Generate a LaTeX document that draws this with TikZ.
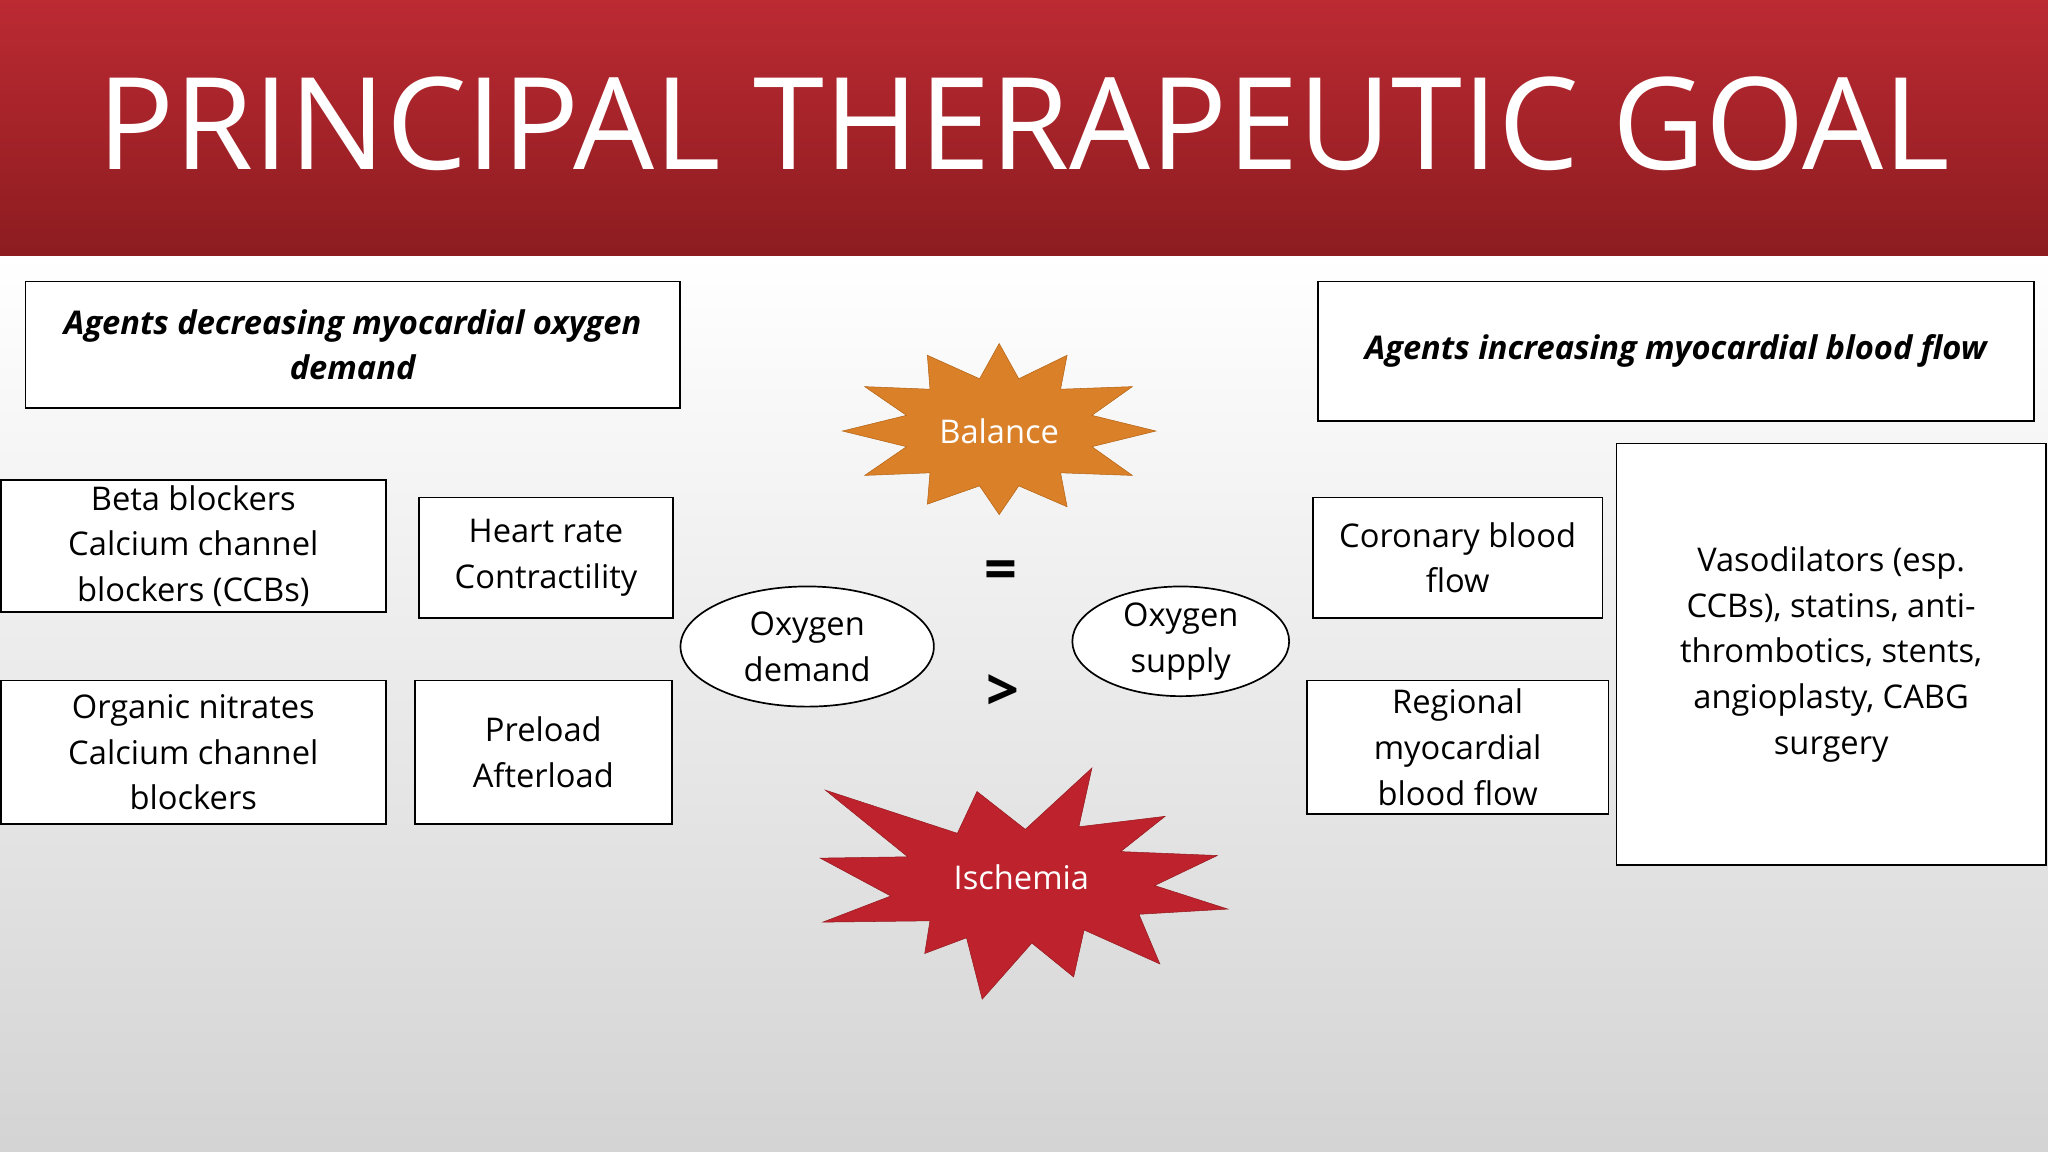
\documentclass[tikz,border=0pt]{standalone}
\usepackage{fontspec}
\setmainfont{Open Sans}
\begin{document}
\begin{tikzpicture}[x=1pt,y=-1pt,
 box/.style={draw=black,line width=1.3pt,fill=white,align=center,inner sep=0pt,font=\fontsize{25}{35}\selectfont},
 ell/.style={draw=black,line width=1.3pt,fill=white,ellipse,align=center,inner sep=0pt,font=\fontsize{25}{35}\selectfont}]
\useasboundingbox (0,0) rectangle (1568,882);
\shade[top color=white,bottom color=black!17] (0,195) rectangle (1568,882);
\shade[top color={rgb,255:red,188;green,42;blue,50},bottom color={rgb,255:red,140;green,28;blue,32}] (0,0) rectangle (1568,196);
\node (title) at (784,95) [white,font=\fontsize{98}{110}\selectfont] {PRINCIPAL THERAPEUTIC GOAL};
\node (a1) [box,minimum width=501pt,minimum height=97pt,font=\fontsize{25}{35}\selectfont\itshape\bfseries] at (270,264) {Agents decreasing myocardial oxygen\\demand};
\node (a2) [box,minimum width=548pt,minimum height=107pt,font=\fontsize{25}{35}\selectfont\itshape\bfseries] at (1283,269) {Agents increasing myocardial blood flow};
\node (b1) [box,minimum width=295pt,minimum height=101pt] at (148,418) {Beta blockers\\Calcium channel\\blockers (CCBs)};
\node (b2) [box,minimum width=295pt,minimum height=110pt] at (148,576) {Organic nitrates\\Calcium channel\\blockers};
\node (c1) [box,minimum width=194pt,minimum height=92pt] at (418,427) {Heart rate\\Contractility};
\node (c2) [box,minimum width=197pt,minimum height=110pt] at (416,576) {Preload\\Afterload};
\node (d1) [box,minimum width=222pt,minimum height=92pt] at (1116,427) {Coronary blood\\flow};
\node (d2) [box,minimum width=231pt,minimum height=102pt] at (1116,572) {Regional\\myocardial\\blood flow};
\node (e) [box,minimum width=329pt,minimum height=323pt] at (1402,501) {Vasodilators (esp.\\CCBs), statins, anti-\\thrombotics, stents,\\angioplasty, CABG\\surgery};
\draw[line width=1.3pt,fill=white] (618,495) ellipse (97 and 46);
\node (od) [align=center,font=\fontsize{25}{35}\selectfont] at (618,495) {Oxygen\\demand};
\draw[line width=1.3pt,fill=white] (904,491) ellipse (83 and 42);
\node (os) [align=center,font=\fontsize{25}{35}\selectfont] at (904,491) {Oxygen\\supply};
\node (eq) at (766,440) [font=\fontsize{44}{44}\selectfont\bfseries] {=};
\node (gt) at (768,530) [font=\fontsize{44}{44}\selectfont\bfseries] {>};
\fill[draw={rgb,255:red,180;green,100;blue,20},fill={rgb,255:red,218;green,128;blue,40}]
 (765,263) -- (780,290) -- (817,272) -- (812,298) -- (867,296) -- (836,318) -- (885,330) -- (836,342)
 -- (867,364) -- (812,362) -- (817,388) -- (780,372) -- (765,394) -- (750,372) -- (710,386) -- (712,362)
 -- (662,364) -- (694,342) -- (645,330) -- (694,318) -- (662,296) -- (712,298) -- (710,272) -- (750,290) -- cycle;
\node (bal) at (765,330) [white,font=\fontsize{25}{30}\selectfont] {Balance};
\fill[draw={rgb,255:red,150;green,25;blue,30},fill={rgb,255:red,190;green,35;blue,45}]
 (632,605) -- (733,638) -- (748,606) -- (785,635) -- (836,588) -- (826,633) -- (892,625) -- (858,652)
 -- (932,655) -- (884,678) -- (940,696) -- (872,700) -- (888,738) -- (830,712) -- (822,748) -- (790,722)
 -- (752,765) -- (740,718) -- (708,730) -- (712,705) -- (630,706) -- (682,686) -- (628,657) -- (695,656) -- cycle;
\node (isc) at (782,672) [white,font=\fontsize{25}{30}\selectfont] {Ischemia};
\end{tikzpicture}
\end{document}
